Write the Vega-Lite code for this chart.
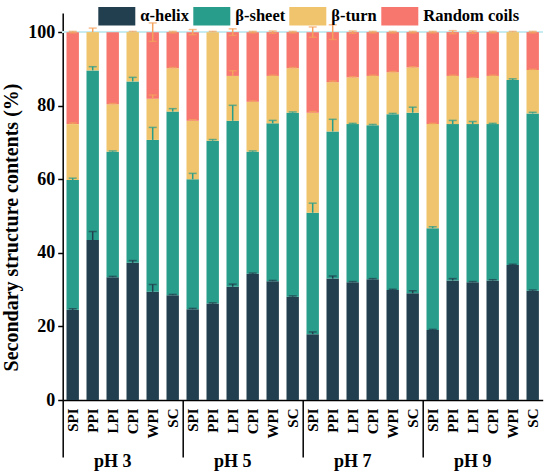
{
  "$schema": "https://vega.github.io/schema/vega-lite/v6.json",
  "width": 480,
  "height": 387,
  "autosize": "none",
  "padding": {"left": 62.7, "top": 13, "right": 7.3, "bottom": 72},
  "background": "white",
  "data": {
    "values": [
      {"ph": 3, "protein": "SPI", "structure": "α-helix", "value": 24.5, "err": 0.3},
      {"ph": 3, "protein": "SPI", "structure": "β-sheet", "value": 35.3, "err": 0.5},
      {"ph": 3, "protein": "SPI", "structure": "β-turn", "value": 15.2, "err": 0.3},
      {"ph": 3, "protein": "SPI", "structure": "Random coils", "value": 25.0, "err": 0.2},
      {"ph": 3, "protein": "PPI", "structure": "α-helix", "value": 43.5, "err": 2.3},
      {"ph": 3, "protein": "PPI", "structure": "β-sheet", "value": 46.1, "err": 1.0},
      {"ph": 3, "protein": "PPI", "structure": "β-turn", "value": 10.4, "err": 1.1},
      {"ph": 3, "protein": "LPI", "structure": "α-helix", "value": 33.4, "err": 0.2},
      {"ph": 3, "protein": "LPI", "structure": "β-sheet", "value": 34.1, "err": 0.2},
      {"ph": 3, "protein": "LPI", "structure": "β-turn", "value": 12.9, "err": 0.2},
      {"ph": 3, "protein": "LPI", "structure": "Random coils", "value": 19.6, "err": 0},
      {"ph": 3, "protein": "CPI", "structure": "α-helix", "value": 37.3, "err": 0.6},
      {"ph": 3, "protein": "CPI", "structure": "β-sheet", "value": 49.3, "err": 1.1},
      {"ph": 3, "protein": "CPI", "structure": "β-turn", "value": 13.4, "err": 0.2},
      {"ph": 3, "protein": "WPI", "structure": "α-helix", "value": 29.4, "err": 2.0},
      {"ph": 3, "protein": "WPI", "structure": "β-sheet", "value": 41.3, "err": 3.4},
      {"ph": 3, "protein": "WPI", "structure": "β-turn", "value": 11.2, "err": 1.0},
      {"ph": 3, "protein": "WPI", "structure": "Random coils", "value": 18.1, "err": 2.5},
      {"ph": 3, "protein": "SC", "structure": "α-helix", "value": 28.5, "err": 0.2},
      {"ph": 3, "protein": "SC", "structure": "β-sheet", "value": 49.9, "err": 0.8},
      {"ph": 3, "protein": "SC", "structure": "β-turn", "value": 11.8, "err": 0.2},
      {"ph": 3, "protein": "SC", "structure": "Random coils", "value": 9.8, "err": 0.2},
      {"ph": 5, "protein": "SPI", "structure": "α-helix", "value": 24.7, "err": 0.2},
      {"ph": 5, "protein": "SPI", "structure": "β-sheet", "value": 35.3, "err": 1.6},
      {"ph": 5, "protein": "SPI", "structure": "β-turn", "value": 15.9, "err": 0.3},
      {"ph": 5, "protein": "SPI", "structure": "Random coils", "value": 24.1, "err": 0.7},
      {"ph": 5, "protein": "PPI", "structure": "α-helix", "value": 26.2, "err": 0.2},
      {"ph": 5, "protein": "PPI", "structure": "β-sheet", "value": 44.3, "err": 0.3},
      {"ph": 5, "protein": "PPI", "structure": "β-turn", "value": 29.5, "err": 0.2},
      {"ph": 5, "protein": "LPI", "structure": "α-helix", "value": 30.8, "err": 0.7},
      {"ph": 5, "protein": "LPI", "structure": "β-sheet", "value": 45.1, "err": 4.2},
      {"ph": 5, "protein": "LPI", "structure": "β-turn", "value": 12.2, "err": 1.4},
      {"ph": 5, "protein": "LPI", "structure": "Random coils", "value": 11.9, "err": 0.9},
      {"ph": 5, "protein": "CPI", "structure": "α-helix", "value": 34.3, "err": 0.2},
      {"ph": 5, "protein": "CPI", "structure": "β-sheet", "value": 33.2, "err": 0.2},
      {"ph": 5, "protein": "CPI", "structure": "β-turn", "value": 13.6, "err": 0.2},
      {"ph": 5, "protein": "CPI", "structure": "Random coils", "value": 18.9, "err": 0.2},
      {"ph": 5, "protein": "WPI", "structure": "α-helix", "value": 32.3, "err": 0.2},
      {"ph": 5, "protein": "WPI", "structure": "β-sheet", "value": 42.9, "err": 0.8},
      {"ph": 5, "protein": "WPI", "structure": "β-turn", "value": 12.9, "err": 0.2},
      {"ph": 5, "protein": "WPI", "structure": "Random coils", "value": 11.9, "err": 0.3},
      {"ph": 5, "protein": "SC", "structure": "α-helix", "value": 28.1, "err": 0.2},
      {"ph": 5, "protein": "SC", "structure": "β-sheet", "value": 50.0, "err": 0.2},
      {"ph": 5, "protein": "SC", "structure": "β-turn", "value": 12.1, "err": 0.2},
      {"ph": 5, "protein": "SC", "structure": "Random coils", "value": 9.8, "err": 0.2},
      {"ph": 7, "protein": "SPI", "structure": "α-helix", "value": 17.9, "err": 0.6},
      {"ph": 7, "protein": "SPI", "structure": "β-sheet", "value": 33.0, "err": 2.6},
      {"ph": 7, "protein": "SPI", "structure": "β-turn", "value": 27.2, "err": 0.3},
      {"ph": 7, "protein": "SPI", "structure": "Random coils", "value": 21.9, "err": 1.4},
      {"ph": 7, "protein": "PPI", "structure": "α-helix", "value": 33.0, "err": 0.7},
      {"ph": 7, "protein": "PPI", "structure": "β-sheet", "value": 40.0, "err": 3.3},
      {"ph": 7, "protein": "PPI", "structure": "β-turn", "value": 13.4, "err": 0.3},
      {"ph": 7, "protein": "PPI", "structure": "Random coils", "value": 13.6, "err": 2.0},
      {"ph": 7, "protein": "LPI", "structure": "α-helix", "value": 32.0, "err": 0.2},
      {"ph": 7, "protein": "LPI", "structure": "β-sheet", "value": 43.0, "err": 0.2},
      {"ph": 7, "protein": "LPI", "structure": "β-turn", "value": 12.7, "err": 0.2},
      {"ph": 7, "protein": "LPI", "structure": "Random coils", "value": 12.3, "err": 0.3},
      {"ph": 7, "protein": "CPI", "structure": "α-helix", "value": 32.8, "err": 0.2},
      {"ph": 7, "protein": "CPI", "structure": "β-sheet", "value": 41.9, "err": 0.2},
      {"ph": 7, "protein": "CPI", "structure": "β-turn", "value": 13.4, "err": 0.2},
      {"ph": 7, "protein": "CPI", "structure": "Random coils", "value": 11.9, "err": 0.2},
      {"ph": 7, "protein": "WPI", "structure": "α-helix", "value": 29.9, "err": 0.2},
      {"ph": 7, "protein": "WPI", "structure": "β-sheet", "value": 47.8, "err": 0.2},
      {"ph": 7, "protein": "WPI", "structure": "β-turn", "value": 11.4, "err": 0.2},
      {"ph": 7, "protein": "WPI", "structure": "Random coils", "value": 10.9, "err": 0.2},
      {"ph": 7, "protein": "SC", "structure": "α-helix", "value": 29.0, "err": 0.7},
      {"ph": 7, "protein": "SC", "structure": "β-sheet", "value": 49.1, "err": 1.5},
      {"ph": 7, "protein": "SC", "structure": "β-turn", "value": 12.3, "err": 0.2},
      {"ph": 7, "protein": "SC", "structure": "Random coils", "value": 9.6, "err": 0.2},
      {"ph": 9, "protein": "SPI", "structure": "α-helix", "value": 19.0, "err": 0.2},
      {"ph": 9, "protein": "SPI", "structure": "β-sheet", "value": 27.7, "err": 0.4},
      {"ph": 9, "protein": "SPI", "structure": "β-turn", "value": 28.3, "err": 0.2},
      {"ph": 9, "protein": "SPI", "structure": "Random coils", "value": 25.0, "err": 0.2},
      {"ph": 9, "protein": "PPI", "structure": "α-helix", "value": 32.5, "err": 0.5},
      {"ph": 9, "protein": "PPI", "structure": "β-sheet", "value": 42.5, "err": 1.0},
      {"ph": 9, "protein": "PPI", "structure": "β-turn", "value": 13.1, "err": 0.2},
      {"ph": 9, "protein": "PPI", "structure": "Random coils", "value": 11.9, "err": 0.4},
      {"ph": 9, "protein": "LPI", "structure": "α-helix", "value": 32.0, "err": 0.2},
      {"ph": 9, "protein": "LPI", "structure": "β-sheet", "value": 43.0, "err": 0.7},
      {"ph": 9, "protein": "LPI", "structure": "β-turn", "value": 12.5, "err": 0.2},
      {"ph": 9, "protein": "LPI", "structure": "Random coils", "value": 12.5, "err": 0.3},
      {"ph": 9, "protein": "CPI", "structure": "α-helix", "value": 32.5, "err": 0.2},
      {"ph": 9, "protein": "CPI", "structure": "β-sheet", "value": 42.5, "err": 0.2},
      {"ph": 9, "protein": "CPI", "structure": "β-turn", "value": 13.1, "err": 0.2},
      {"ph": 9, "protein": "CPI", "structure": "Random coils", "value": 11.9, "err": 0.2},
      {"ph": 9, "protein": "WPI", "structure": "α-helix", "value": 36.7, "err": 0.2},
      {"ph": 9, "protein": "WPI", "structure": "β-sheet", "value": 50.3, "err": 0.3},
      {"ph": 9, "protein": "WPI", "structure": "β-turn", "value": 13.0, "err": 0.2},
      {"ph": 9, "protein": "SC", "structure": "α-helix", "value": 29.7, "err": 0.2},
      {"ph": 9, "protein": "SC", "structure": "β-sheet", "value": 48.2, "err": 0.3},
      {"ph": 9, "protein": "SC", "structure": "β-turn", "value": 11.8, "err": 0.2},
      {"ph": 9, "protein": "SC", "structure": "Random coils", "value": 10.3, "err": 0.2}
    ]
  },
  "transform": [
    {"calculate": "datum.ph + '|' + datum.protein", "as": "key"},
    {"calculate": "indexof(['α-helix', 'β-sheet', 'β-turn', 'Random coils'], datum.structure)", "as": "ord"},
    {"stack": "value", "groupby": ["key"], "sort": [{"field": "ord", "order": "ascending"}], "as": ["y0", "y1"]},
    {"calculate": "datum.structure == 'Random coils' ? datum.y1 - datum.err : datum.y1", "as": "lo"},
    {"calculate": "datum.y1 + datum.err", "as": "hi"}
  ],
  "layer": [
    {
      "mark": {"type": "rule", "color": "#c6ecf0", "strokeWidth": 1},
      "encoding": {"y": {"datum": 100, "type": "quantitative", "scale": {"domain": [0, 105.2], "nice": false}}}
    },
    {
      "mark": {"type": "bar", "width": {"band": 0.62}, "strokeWidth": 0},
      "encoding": {
        "x": {
          "field": "key", "type": "nominal",
          "scale": {
            "domain": ["3|SPI", "3|PPI", "3|LPI", "3|CPI", "3|WPI", "3|SC",
                       "5|SPI", "5|PPI", "5|LPI", "5|CPI", "5|WPI", "5|SC",
                       "7|SPI", "7|PPI", "7|LPI", "7|CPI", "7|WPI", "7|SC",
                       "9|SPI", "9|PPI", "9|LPI", "9|CPI", "9|WPI", "9|SC"],
            "paddingInner": 0, "paddingOuter": 0
          },
          "axis": {
            "orient": "bottom",
            "title": null,
            "labelExpr": "split(datum.value, '|')[1]",
            "labelAngle": 270,
            "labelPadding": 8,
            "labelFontSize": 15,
            "ticks": false,
            "domain": true
          }
        },
        "y": {
          "field": "y0", "type": "quantitative",
          "scale": {"domain": [0, 105.2], "nice": false},
          "axis": {
            "title": "Secondary structure contents (%)",
            "values": [0, 10, 20, 30, 40, 50, 60, 70, 80, 90, 100],
            "labelExpr": "datum.value % 20 == 0 ? datum.label : ''",
            "tickSize": {"condition": {"test": "datum.value % 20 == 0", "value": 5}, "value": 3},
            "labelFontSize": 18,
            "labelPadding": 3,
            "titleFontSize": 20,
            "titlePadding": 6,
            "titleY": 214,
            "grid": false
          }
        },
        "y2": {"field": "y1"},
        "color": {
          "field": "structure", "type": "nominal",
          "scale": {
            "domain": ["α-helix", "β-sheet", "β-turn", "Random coils"],
            "range": ["#223f4f", "#289d8b", "#efc46d", "#f7766d"]
          },
          "legend": {
            "title": null,
            "orient": "none",
            "direction": "horizontal",
            "legendX": 35.6,
            "legendY": -15.5,
            "padding": 0,
            "symbolType": "M-1,-0.5H1V0.5H-1Z",
            "symbolSize": 1369,
            "symbolStrokeWidth": 0,
            "symbolOpacity": 1,
            "labelOffset": 5,
            "columnPadding": 4,
            "labelFontSize": 16.5,
            "labelFont": "Liberation Serif",
            "labelFontWeight": "bold",
            "labelColor": "black"
          }
        }
      }
    },
    {
      "transform": [{"filter": "datum.err > 0"}],
      "mark": {"type": "rule", "strokeWidth": 1.5},
      "encoding": {
        "x": {
          "field": "key", "type": "nominal",
          "axis": {
            "orient": "bottom",
            "title": null,
            "values": ["3|SPI", "5|SPI", "7|SPI", "9|SPI"],
            "bandPosition": 0,
            "labels": false,
            "domain": false,
            "ticks": true,
            "tickSize": 57,
            "tickWidth": 1.5,
            "tickColor": "black"
          }
        },
        "y": {"field": "lo", "type": "quantitative", "title": "Secondary structure contents (%)"},
        "y2": {"field": "hi"},
        "color": {
          "field": "structure", "type": "nominal",
          "scale": {
            "domain": ["α-helix", "β-sheet", "β-turn", "Random coils"],
            "range": ["#223f4f", "#289d8b", "#f4a35e", "#f4a35e"]
          },
          "legend": null
        }
      }
    },
    {
      "transform": [{"filter": "datum.err > 0"}],
      "mark": {"type": "tick", "size": 8, "thickness": 1.5},
      "encoding": {
        "x": {
          "field": "key", "type": "nominal",
          "axis": {
            "orient": "bottom",
            "title": null,
            "values": ["3|LPI", "5|LPI", "7|LPI", "9|LPI"],
            "bandPosition": 1,
            "labelExpr": "'pH ' + split(datum.value, '|')[0]",
            "labelAngle": 0,
            "labelPadding": 52,
            "labelFontSize": 18,
            "domain": false,
            "ticks": false
          }
        },
        "y": {"field": "hi", "type": "quantitative", "title": "Secondary structure contents (%)"},
        "color": {
          "field": "structure", "type": "nominal",
          "scale": {
            "domain": ["α-helix", "β-sheet", "β-turn", "Random coils"],
            "range": ["#223f4f", "#289d8b", "#f4a35e", "#f4a35e"]
          },
          "legend": null
        }
      }
    },
    {
      "transform": [{"filter": "datum.err > 0 && datum.structure == 'Random coils'"}],
      "mark": {"type": "tick", "size": 8, "thickness": 1.5, "color": "#f4a35e"},
      "encoding": {
        "x": {"field": "key", "type": "nominal", "axis": null},
        "y": {"field": "lo", "type": "quantitative", "title": "Secondary structure contents (%)"}
      }
    }
  ],
  "resolve": {"axis": {"x": "independent"}, "scale": {"color": "independent"}},
  "config": {
    "view": {"stroke": null},
    "font": "Liberation Serif",
    "axis": {
      "labelFont": "Liberation Serif",
      "labelFontWeight": "bold",
      "labelColor": "black",
      "titleFont": "Liberation Serif",
      "titleFontWeight": "bold",
      "titleColor": "black",
      "domainColor": "black",
      "domainWidth": 1.5,
      "tickColor": "black",
      "tickWidth": 1.5
    }
  }
}
